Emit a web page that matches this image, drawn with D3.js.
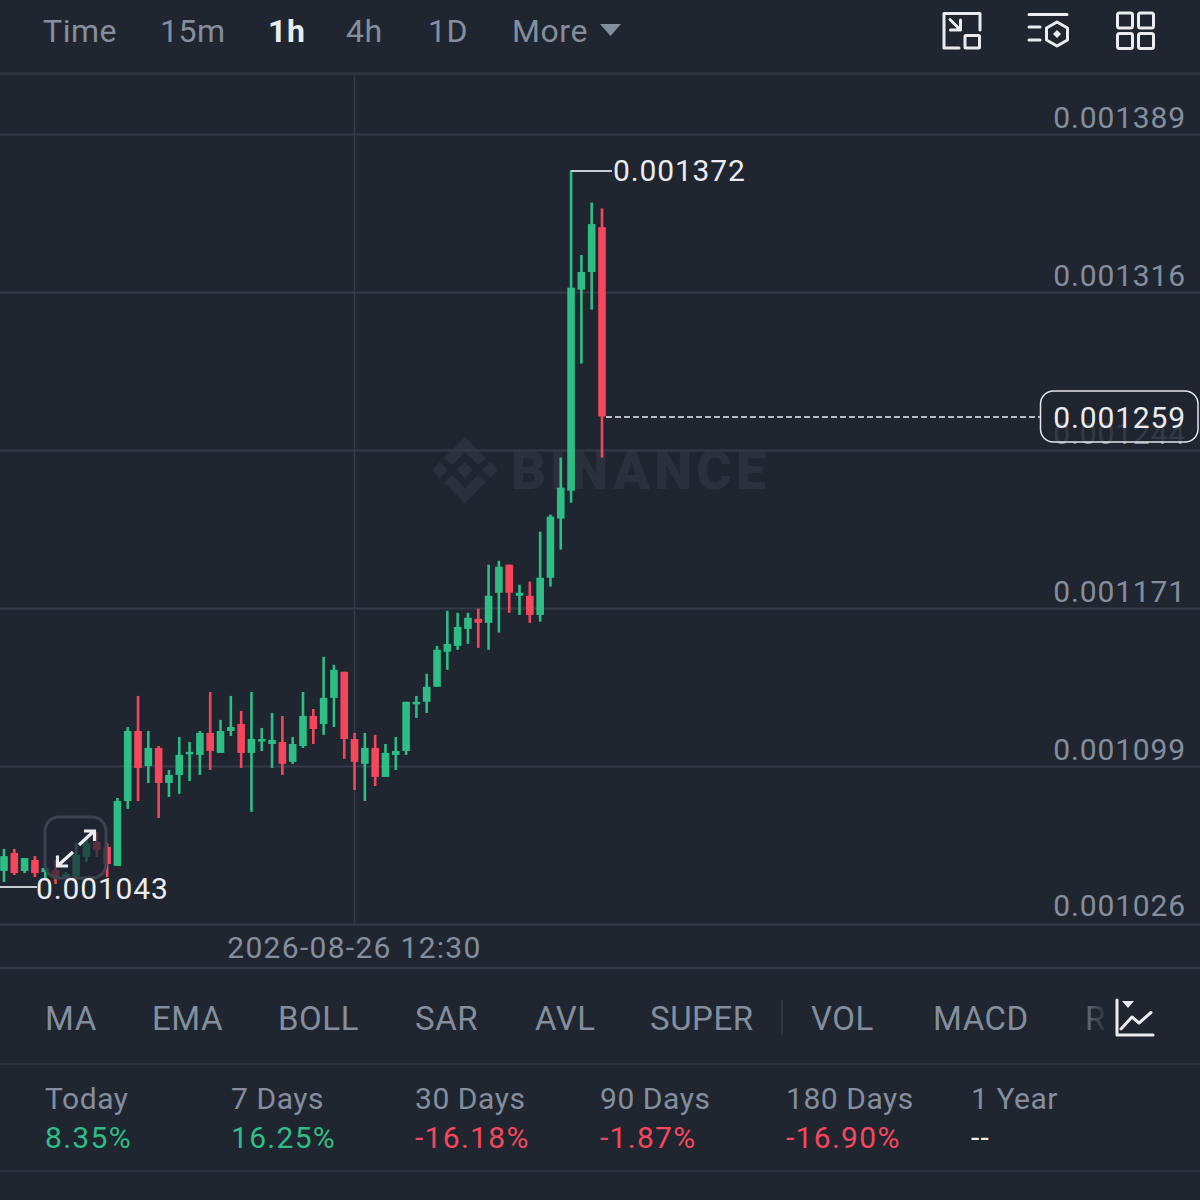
<!DOCTYPE html>
<html>
<head>
<meta charset="utf-8">
<script src="https://cdn.jsdelivr.net/npm/d3@7"></script>
<style>
    html, body { margin: 0; padding: 0; background: #1f2630; }
    svg { display: block; }
    text { font-family: Roboto, sans-serif; letter-spacing: 0.55px; }
    .price { letter-spacing: 0.85px; }
    .wide { letter-spacing: 1.3px; }
</style>
</head>
<body>
<svg width="1200" height="1200"></svg>
<script>
// prices are in units of 0.000001
const opens = [1050.4, 1058.6, 1050.4, 1055.4, 1049.9, 1050.8, 1047.6, 1048.1, 1056.8, 1063.7, 1061.4, 1052.7, 1082.5, 1114.7, 1098.6, 1106.9, 1090.8, 1094.5, 1104.2, 1103.7, 1113.8, 1104.6, 1114.7, 1117.9, 1104.6, 1110.1, 1108.7, 1109.6, 1100.5, 1107.8, 1121.6, 1117.9, 1129.9, 1141.9, 1111.0, 1099.6, 1106.9, 1093.6, 1103.7, 1105.5, 1127.2, 1128.1, 1135.0, 1151.1, 1153.8, 1161.6, 1166.2, 1164.4, 1178.2, 1191.1, 1176.8, 1176.8, 1168.0, 1185.1, 1212.3, 1225.1, 1317.5, 1325.6, 1346.2];
const highs = [1060.5, 1060.5, 1056.3, 1057.2, 1051.7, 1055.4, 1049.9, 1063.2, 1066.0, 1068.3, 1063.2, 1083.9, 1116.5, 1130.8, 1114.7, 1107.8, 1096.8, 1111.9, 1109.6, 1114.7, 1132.6, 1119.8, 1130.8, 1123.9, 1132.6, 1116.1, 1123.0, 1121.6, 1111.9, 1132.6, 1124.8, 1148.8, 1145.1, 1141.9, 1113.8, 1113.8, 1112.9, 1108.7, 1111.9, 1128.1, 1130.8, 1141.0, 1153.8, 1169.9, 1169.0, 1169.0, 1170.9, 1191.1, 1192.9, 1191.1, 1181.9, 1183.3, 1206.3, 1214.1, 1240.3, 1372.4, 1333.4, 1357.5, 1354.8];
const lows = [1045.3, 1048.5, 1049.4, 1047.6, 1047.1, 1044.4, 1047.1, 1047.6, 1054.5, 1056.8, 1047.6, 1052.7, 1078.9, 1082.5, 1090.8, 1074.7, 1084.4, 1085.8, 1091.7, 1094.5, 1096.8, 1104.6, 1112.4, 1097.7, 1077.5, 1105.5, 1097.7, 1094.5, 1099.6, 1106.9, 1108.7, 1112.9, 1116.5, 1101.9, 1087.6, 1082.5, 1089.4, 1093.6, 1096.8, 1103.7, 1120.7, 1123.0, 1135.0, 1142.8, 1152.0, 1154.7, 1152.9, 1152.0, 1159.9, 1169.0, 1168.0, 1164.4, 1164.9, 1181.0, 1198.0, 1219.6, 1283.5, 1308.3, 1240.3];
const closes = [1057.2, 1049.4, 1056.3, 1049.4, 1051.7, 1047.6, 1048.9, 1057.7, 1063.2, 1060.0, 1053.6, 1082.5, 1114.7, 1097.7, 1106.9, 1090.8, 1094.5, 1103.7, 1105.1, 1113.8, 1105.5, 1114.7, 1116.5, 1104.6, 1111.0, 1111.0, 1110.6, 1099.6, 1108.7, 1121.6, 1115.6, 1129.9, 1142.8, 1111.0, 1100.5, 1106.9, 1093.6, 1104.6, 1105.5, 1128.1, 1128.1, 1135.0, 1152.0, 1154.7, 1162.5, 1166.7, 1164.4, 1176.8, 1190.2, 1178.2, 1178.2, 1168.0, 1185.1, 1213.2, 1226.5, 1318.4, 1325.6, 1347.6, 1259.2];

const priceTicks = [1389, 1316.4, 1243.8, 1171.2, 1098.6, 1026];
const highLabel = 1372;
const lowLabel = 1043;
const lastPrice = 1259;
const crossTime = "2026-08-26 12:30";

const timeTabs = ["Time", "15m", "1h", "4h", "1D", "More"];
const timeTabX = [43, 160, 268, 346, 428, 512];
const indicators = ["MA", "EMA", "BOLL", "SAR", "AVL", "SUPER", "VOL", "MACD", "RSI"];
const indicatorX = [45, 152, 278, 415, 535, 650, 811, 933, 1085];
const periods = ["Today", "7 Days", "30 Days", "90 Days", "180 Days", "1 Year"];
const periodChanges = ["8.35%", "16.25%", "-16.18%", "-1.87%", "-16.90%", "--"];
const periodX = [45, 231, 415, 600, 786, 971];

const bg = "#1f2630", green = "#2ebd85", red = "#f6465d",
    grey = "#848e9c", white = "#eaecef", gridColor = "#343b46";

const svg = d3.select("svg");
const fmt = d => (d / 1e6).toFixed(6);

svg.append("rect").attr("width", 1200).attr("height", 1200).attr("fill", bg);

const x = d3.scaleLinear().domain([0, opens.length - 1]).range([4, 602]);
const y = d3.scaleLinear().domain([1026, 1389]).range([924, 134]);

// watermark
const wm = svg.append("g").attr("fill", "#2b313c");
const logo = wm.append("g").attr("transform", "translate(465,470)");
logo.append("path").attr("d", "M0,-8L8,0L0,8L-8,0Z");
logo.append("path").attr("d", "M-25,-8L-17,0L-25,8L-33,0Z");
logo.append("path").attr("d", "M25,-8L33,0L25,8L17,0Z");
logo.append("path").attr("d", "M0,-33L21,-12L13,-5L0,-18L-13,-5L-21,-12Z");
logo.append("path").attr("d", "M0,33L21,12L13,5L0,18L-13,5L-21,12Z");
wm.append("text").attr("x", 511).attr("y", 489)
    .attr("font-size", 54).attr("font-weight", 900)
    .style("letter-spacing", "4.2px")
    .text("BINANCE");

// gridlines and price labels
const yAxis = d3.axisLeft(y).tickValues(priceTicks).tickFormat(fmt).tickSize(1200).tickPadding(0);
const yG = svg.append("g").attr("transform", "translate(1200,0)").call(yAxis);
yG.select(".domain").remove();
yG.selectAll("line").attr("stroke", gridColor).attr("stroke-width", 2);
yG.selectAll("text")
    .attr("class", "price")
    .attr("x", -14).attr("dy", d => d === 1026 ? -9 : -7)
    .attr("text-anchor", "end")
    .attr("fill", grey)
    .attr("font-family", "Roboto, sans-serif")
    .attr("font-size", 30);

// crosshair
svg.append("line").attr("x1", 354.5).attr("x2", 354.5).attr("y1", 74).attr("y2", 924)
    .attr("stroke", gridColor).attr("stroke-width", 1.5);

// candles
const candle = svg.append("g").selectAll("g")
    .data(opens.map((o, i) => ({ i: i, o: o, h: highs[i], l: lows[i], c: closes[i] })))
    .join("g")
    .attr("fill", d => d.c >= d.o ? green : red);

candle.append("rect")
    .attr("x", d => x(d.i) - 1.3)
    .attr("width", 2.6)
    .attr("y", d => y(d.h))
    .attr("height", d => y(d.l) - y(d.h));

candle.append("rect")
    .attr("x", d => x(d.i) - 3.8)
    .attr("width", 7.6)
    .attr("y", d => y(Math.max(d.o, d.c)))
    .attr("height", d => Math.max(2.5, Math.abs(y(d.o) - y(d.c))));

// high / low labels
svg.append("line").attr("x1", x(55)).attr("x2", 612).attr("y1", y(highLabel)).attr("y2", y(highLabel))
    .attr("stroke", "#c8ccd2").attr("stroke-width", 2);
svg.append("text").attr("class", "price").attr("x", 613).attr("y", y(highLabel) + 10)
    .attr("font-size", 30).attr("fill", white).text(fmt(highLabel));

// expand button
svg.append("rect").attr("x", 45).attr("y", 817).attr("width", 61).attr("height", 61).attr("rx", 14)
    .attr("fill", bg).attr("fill-opacity", 0.72).attr("stroke", "#3c434e").attr("stroke-width", 3);
svg.append("path")
    .attr("d", "M57.5,866L73,852M79,845L94,831M84,831H94.5V841M57.5,855.5V866H68")
    .attr("fill", "none").attr("stroke", white).attr("stroke-width", 3.2);

svg.append("line").attr("x1", 0).attr("x2", 37).attr("y1", y(lowLabel)).attr("y2", y(lowLabel))
    .attr("stroke", "#c8ccd2").attr("stroke-width", 2);
svg.append("text").attr("class", "price").attr("x", 36).attr("y", y(lowLabel) + 11.5)
    .attr("font-size", 30).attr("fill", white).text(fmt(lowLabel));

// last price
svg.append("line").attr("x1", x(58) + 4).attr("x2", 1040).attr("y1", y(lastPrice)).attr("y2", y(lastPrice))
    .attr("stroke", white).attr("stroke-width", 1.5).attr("stroke-dasharray", "6 3");
svg.append("rect").attr("x", 1040.5).attr("y", 391).attr("width", 157.5).attr("height", 51).attr("rx", 13)
    .attr("fill", bg).attr("fill-opacity", 0.8).attr("stroke", "#e4e6ea").attr("stroke-width", 1.5);
svg.append("text").attr("class", "price").attr("x", 1186).attr("y", 428).attr("text-anchor", "end")
    .attr("font-size", 30).attr("fill", white).text(fmt(lastPrice));

// time label under the crosshair
svg.append("text").attr("class", "wide").attr("x", 354.5).attr("y", 958).attr("text-anchor", "middle")
    .attr("font-size", 30).attr("fill", grey).text(crossTime);

// separators
[[73.5, 3, "#2b323c"], [968, 2.5, "#343b46"], [1064, 1.5, "#2f3640"], [1171, 1.5, "#2f3640"]].forEach(function (s) {
    svg.append("line").attr("x1", 0).attr("x2", 1200).attr("y1", s[0]).attr("y2", s[0])
        .attr("stroke", s[2]).attr("stroke-width", s[1]);
});

// time tabs
svg.append("g").selectAll("text").data(timeTabs).join("text")
    .attr("x", (d, i) => timeTabX[i]).attr("y", 42)
    .attr("font-size", 32)
    .attr("font-weight", d => d === "1h" ? 700 : 400)
    .attr("fill", d => d === "1h" ? white : grey)
    .text(d => d);
svg.append("path").attr("d", "M600,24H621L610.5,36Z").attr("fill", grey);

// top right icons
const icons = svg.append("g").attr("fill", "none").attr("stroke", white)
    .attr("stroke-width", 3).attr("stroke-linejoin", "round").attr("stroke-linecap", "round");
icons.append("path").attr("d", "M959,48H944V13.5H980V30");
icons.append("rect").attr("x", 965).attr("y", 35.5).attr("width", 14.5).attr("height", 12.5).attr("rx", 1);
icons.append("path").attr("d", "M950,19.5L960.5,30M960.5,20V30H950.5");
icons.append("path").attr("d", "M1029,14.5H1067M1029,27H1040M1029,40H1040");
icons.append("path").attr("d", "M1057,22L1067.5,28V40L1057,46L1046.5,40V28Z");
icons.append("path").attr("d", "M1057,30L1061,34L1057,38L1053,34Z").attr("fill", white).attr("stroke", "none");
[1117.5, 1138.5].forEach(function (ix) {
    [13, 33.5].forEach(function (iy) {
        icons.append("rect").attr("x", ix).attr("y", iy).attr("width", 15).attr("height", 15).attr("rx", 2);
    });
});

// indicator tabs
svg.append("g").selectAll("text").data(indicators).join("text")
    .attr("x", (d, i) => indicatorX[i]).attr("y", 1030)
    .attr("font-size", 33).attr("fill", grey)
    .text(d => d);
svg.append("line").attr("x1", 782).attr("x2", 782).attr("y1", 1000).attr("y2", 1034)
    .attr("stroke", gridColor).attr("stroke-width", 1.5);

const fade = svg.append("defs").append("linearGradient").attr("id", "fade");
fade.append("stop").attr("offset", "0%").attr("stop-color", bg).attr("stop-opacity", 0.3);
fade.append("stop").attr("offset", "80%").attr("stop-color", bg).attr("stop-opacity", 1);
svg.append("rect").attr("x", 1085).attr("y", 995).attr("width", 30).attr("height", 50).attr("fill", "url(#fade)");
svg.append("rect").attr("x", 1115).attr("y", 995).attr("width", 85).attr("height", 50).attr("fill", bg);

const chartIcon = svg.append("g").attr("fill", "none").attr("stroke", white)
    .attr("stroke-width", 3).attr("stroke-linejoin", "round").attr("stroke-linecap", "round");
chartIcon.append("path").attr("d", "M1117,1000V1035H1153");
chartIcon.append("path").attr("d", "M1121,1029L1132,1017L1139,1023L1151,1012.5");
svg.append("path").attr("d", "M1122,1001H1134L1128,1008Z").attr("fill", white);

// period changes
svg.append("g").selectAll("text").data(periods).join("text")
    .attr("x", (d, i) => periodX[i]).attr("y", 1109)
    .attr("font-size", 30).attr("fill", grey)
    .text(d => d);
svg.append("g").selectAll("text").data(periodChanges).join("text")
    .attr("class", "wide")
    .attr("x", (d, i) => periodX[i]).attr("y", 1148)
    .attr("font-size", 30)
    .attr("fill", d => d === "--" ? white : d[0] === "-" ? red : green)
    .text(d => d);
</script>
</body>
</html>
